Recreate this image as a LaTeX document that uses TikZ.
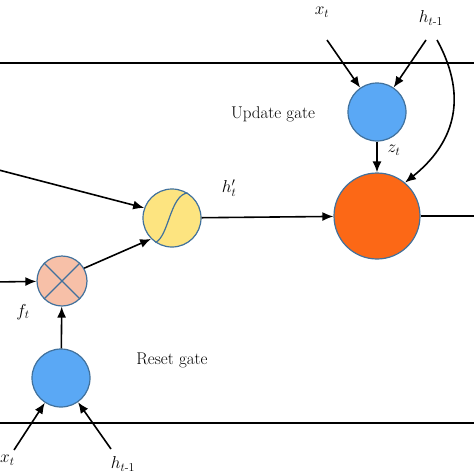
\documentclass[tikz,border=0pt]{standalone}
\usepackage{amsmath}
\usepackage{tikz}
\usetikzlibrary{arrows.meta}
\definecolor{gateblue}{RGB}{90,168,245}
\definecolor{rimblue}{RGB}{65,113,156}
\definecolor{candyellow}{RGB}{253,228,128}
\definecolor{mulpink}{RGB}{247,192,168}
\definecolor{outorange}{RGB}{252,104,22}
\tikzset{
  unit/.style={circle, draw=rimblue, line width=1.2pt, inner sep=0pt},
  arr/.style={line width=1.6pt, -{Latex[length=11pt, width=9pt]}},
  lbl/.style={inner sep=0pt, font=\fontsize{17}{20}\selectfont}
}
\begin{document}
\begin{tikzpicture}[x=1pt, y=-1pt]
        \useasboundingbox (0,0) rectangle (474,474);
        % frame lines
        \draw[line width=1.6pt] (0,63) -- (474,63);
        \draw[line width=1.6pt] (0,423) -- (474,423);
        % units
        \node[unit, fill=gateblue, minimum size=58pt] (upd) at (377,112) {};
        \node[unit, fill=outorange, minimum size=86pt] (out) at (377,216) {};
        \node[unit, fill=candyellow, minimum size=58pt] (cand) at (172,218) {};
        \node[unit, fill=mulpink, minimum size=50pt] (mul) at (62,281) {};
        \node[unit, fill=gateblue, minimum size=58pt] (rst) at (61,378) {};
        \draw[rimblue, line width=1.2pt] (mul.45) -- (mul.225) (mul.135) -- (mul.315);
        \draw[rimblue, line width=1.2pt] (cand.58) .. controls (170,195) and (169,236) .. (cand.236);
        % labels
        \node[lbl] (xtop) at (322,12) {$x_t$};
        \node[lbl] (htop) at (431,18) {$h_{t\text{-}1}$};
        \node[lbl] (zt) at (394,150) {$z_t$};
        \node[lbl] (hc) at (229,188) {$h_t^{\prime}$};
        \node[lbl] (ft) at (23,312) {$f_t$};
        \node[lbl, anchor=west] (xbot) at (0,460) {$x_t$};
        \node[lbl] (hbot) at (123,464) {$h_{t\text{-}1}$};
        \node[lbl] at (273,114) {Update gate};
        \node[lbl] at (172,360) {Reset gate};
        % free ends
        \coordinate (a0) at (327,40);
        \coordinate (a1) at (426,40);
        \coordinate (a2) at (437,40);
        \coordinate (b0) at (-5,169);
        \coordinate (b1) at (-5,282);
        \coordinate (c0) at (14,450);
        \coordinate (c1) at (111,449);
        \coordinate (e0) at (480,216);
        % connectors
        \draw[arr] (a0) -- (upd);
        \draw[arr] (a1) -- (upd);
        \draw[arr] (a2) .. controls (470,100) and (452,145) .. (out.50);
        \draw[arr] (upd) -- (out);
        \draw[line width=1.6pt] (out) -- (e0);
        \draw[arr] (cand) -- (out);
        \draw[arr] (b0) -- (cand.160);
        \draw[arr] (b1) -- (mul);
        \draw[arr] (mul.30) -- (cand.225);
        \draw[arr] (rst) -- (mul);
        \draw[arr] (c0) -- (rst);
        \draw[arr] (c1) -- (rst);
      \end{tikzpicture}
\end{document}
